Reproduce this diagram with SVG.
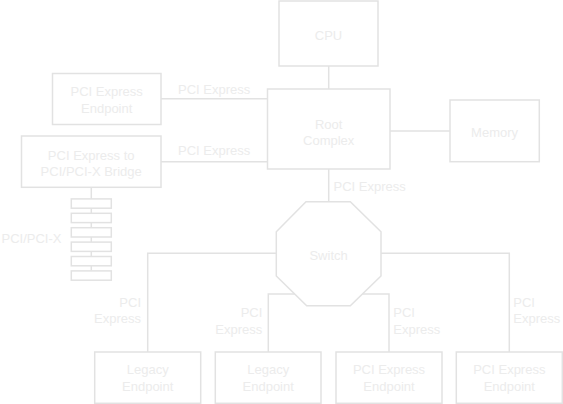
<svg xmlns="http://www.w3.org/2000/svg" width="563" height="404" viewBox="0 0 563 404">
<style>
.box{fill:#ffffff;stroke:#e2e2e2;stroke-width:1.5}
.ln{fill:none;stroke:#e2e2e2;stroke-width:1.5}
text{font-family:"Liberation Sans",Arial,sans-serif;font-size:13px;fill:#ececec}
.c{text-anchor:middle}
.r{text-anchor:end}
.l{text-anchor:start}
</style>
<rect width="563" height="404" fill="#ffffff"/>
<g id="connectors">
<path class="ln" d="M328.7 66V89"/>
<path class="ln" d="M390 131H450"/>
<path class="ln" d="M161 98.7H267.5"/>
<path class="ln" d="M161 161.7H267.5"/>
<path class="ln" d="M328.7 169V201.7"/>
<path class="ln" d="M91.3 187V270.7"/>
<path class="ln" d="M276.3 253.3H147.7V352"/>
<path class="ln" d="M381 253.3H509.3V352"/>
<path class="ln" d="M294.7 294H268.3V352"/>
<path class="ln" d="M362.6 294H389V352"/>
<text class="l" x="178" y="94">PCI Express</text>
<text class="l" x="178" y="155">PCI Express</text>
<text class="l" x="333.5" y="190.5">PCI Express</text>
<text class="r" x="141" y="306.5">PCI</text>
<text class="r" x="141" y="323">Express</text>
<text class="r" x="262.3" y="317.3">PCI</text>
<text class="r" x="262.3" y="334">Express</text>
<text class="l" x="393.3" y="317.3">PCI</text>
<text class="l" x="393.3" y="334">Express</text>
<text class="l" x="513.3" y="306.5">PCI</text>
<text class="l" x="513.3" y="323">Express</text>
</g>
<g id="cpu"><rect class="box" x="279" y="1" width="99" height="65"/><text class="c" x="328.5" y="40">CPU</text></g>
<g id="root"><rect class="box" x="267.5" y="89" width="122.5" height="80"/><text class="c" x="328.7" y="128.5">Root</text><text class="c" x="328.7" y="145">Complex</text></g>
<g id="memory"><rect class="box" x="450" y="100" width="89.3" height="61.7"/><text class="c" x="494.6" y="137">Memory</text></g>
<g id="endpoint-top"><rect class="box" x="52.5" y="73.5" width="108.5" height="51"/><text class="c" x="106.7" y="96">PCI Express</text><text class="c" x="106.7" y="112.5">Endpoint</text></g>
<g id="bridge"><rect class="box" x="21.5" y="136" width="139.5" height="51.3"/><text class="c" x="91.2" y="159.5">PCI Express to</text><text class="c" x="91.2" y="176">PCI/PCI-X Bridge</text></g>
<g id="bus">
<rect class="box" x="71.3" y="198.9" width="40" height="9.3"/>
<rect class="box" x="71.3" y="213.3" width="40" height="9.3"/>
<rect class="box" x="71.3" y="227.7" width="40" height="9.3"/>
<rect class="box" x="71.3" y="242.1" width="40" height="9.3"/>
<rect class="box" x="71.3" y="256.5" width="40" height="9.3"/>
<rect class="box" x="71.3" y="270.9" width="40" height="9.3"/>
<text class="c" x="31.5" y="243">PCI/PCI-X</text>
</g>
<g id="switch"><polygon class="box" points="306,201.7 350.3,201.7 381,231.7 381,276 350.3,305.7 306.7,305.7 276.3,276 276.3,231.7"/><text class="c" x="328.6" y="259.5">Switch</text></g>
<g id="legacy1"><rect class="box" x="94.7" y="352" width="106" height="51.3"/><text class="c" x="147.7" y="374">Legacy</text><text class="c" x="147.7" y="390.5">Endpoint</text></g>
<g id="legacy2"><rect class="box" x="215.3" y="352" width="105.7" height="51.3"/><text class="c" x="268.2" y="374">Legacy</text><text class="c" x="268.2" y="390.5">Endpoint</text></g>
<g id="endpoint3"><rect class="box" x="336" y="352" width="106" height="51.3"/><text class="c" x="389" y="374">PCI Express</text><text class="c" x="389" y="390.5">Endpoint</text></g>
<g id="endpoint4"><rect class="box" x="456.3" y="352" width="106" height="51.3"/><text class="c" x="509.3" y="374">PCI Express</text><text class="c" x="509.3" y="390.5">Endpoint</text></g>
</svg>
